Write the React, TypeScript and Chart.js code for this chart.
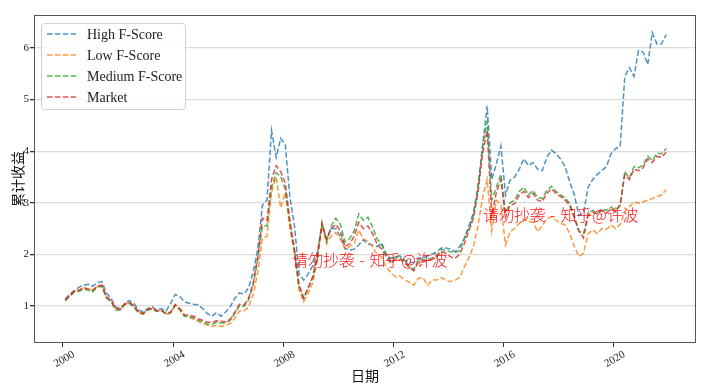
import React, { useEffect, useRef } from "react";
import { Chart, registerables } from "chart.js";

Chart.register(...registerables);

// Bi-monthly observations starting Feb 2000 (decimal years)
const startYear = 2000.08;
const stepYears = 1 / 6;

const seriesNames = ["High F-Score", "Low F-Score", "Medium F-Score", "Market"];

const highScore = [
  1.13, 1.22, 1.30, 1.36, 1.40, 1.42, 1.38, 1.45, 1.47, 1.25, 1.15, 0.98,
  0.95, 1.05, 1.10, 1.05, 0.92, 0.88, 0.95, 0.98, 0.92, 0.95, 0.90, 1.05,
  1.22, 1.18, 1.08, 1.05, 1.03, 1.02, 0.95, 0.85, 0.80, 0.87, 0.80, 0.88,
  0.98, 1.15, 1.25, 1.23, 1.35, 1.65, 2.10, 2.95, 3.05, 4.40, 3.88, 4.25,
  4.12, 3.10, 2.55, 1.62, 1.50, 1.62, 1.78, 2.05, 2.55, 2.30, 2.50, 2.50,
  2.35, 2.12, 2.08, 2.10, 2.18, 2.28, 2.20, 2.18, 2.15, 2.22, 2.00, 1.92,
  1.95, 1.97, 1.88, 1.85, 1.84, 1.93, 1.93, 1.97, 2.00, 2.05, 2.12, 2.12,
  2.10, 2.05, 2.15, 2.30, 2.55, 2.80, 3.30, 4.10, 4.88, 3.45, 3.75, 4.10,
  3.15, 3.44, 3.50, 3.65, 3.85, 3.72, 3.78, 3.65, 3.62, 3.88, 4.02, 3.95,
  3.85, 3.70, 3.40, 3.15, 2.75, 2.80, 3.30, 3.45, 3.55, 3.62, 3.70, 3.95,
  4.05, 4.10, 5.45, 5.62, 5.45, 5.95, 5.92, 5.68, 6.30, 6.08, 6.08, 6.26,
];

const lowScore = [
  1.10, 1.20, 1.30, 1.30, 1.36, 1.33, 1.30, 1.38, 1.40, 1.17, 1.12, 0.95,
  0.95, 1.05, 1.06, 1.00, 0.88, 0.86, 0.94, 0.96, 0.90, 0.91, 0.83, 0.86,
  1.00, 0.92, 0.80, 0.78, 0.74, 0.70, 0.66, 0.63, 0.60, 0.62, 0.60, 0.62,
  0.66, 0.76, 0.90, 0.90, 0.98, 1.22, 1.65, 2.30, 2.35, 3.20, 3.50, 2.90,
  3.20, 2.50, 2.00, 1.30, 1.08, 1.25, 1.45, 1.90, 2.55, 2.20, 2.35, 2.42,
  2.30, 2.10, 2.15, 2.20, 2.47, 2.30, 2.25, 2.15, 2.00, 1.95, 1.75, 1.65,
  1.56, 1.58, 1.50, 1.46, 1.40, 1.53, 1.55, 1.40, 1.50, 1.50, 1.55, 1.50,
  1.47, 1.50, 1.55, 1.75, 1.93, 2.15, 2.55, 3.10, 3.45, 2.45, 3.05, 2.95,
  2.18, 2.44, 2.50, 2.60, 2.69, 2.63, 2.62, 2.44, 2.55, 2.69, 2.73, 2.66,
  2.60, 2.57, 2.40, 2.15, 1.96, 2.02, 2.40, 2.47, 2.40, 2.50, 2.48, 2.57,
  2.50, 2.58, 2.83, 2.92, 3.02, 2.99, 3.02, 3.05, 3.08, 3.12, 3.15, 3.25,
];

const mediumScore = [
  1.10, 1.18, 1.27, 1.28, 1.33, 1.30, 1.27, 1.36, 1.38, 1.15, 1.08, 0.92,
  0.92, 1.02, 1.05, 0.98, 0.86, 0.84, 0.92, 0.94, 0.89, 0.91, 0.84, 0.87,
  1.01, 0.93, 0.80, 0.80, 0.77, 0.72, 0.69, 0.65, 0.64, 0.68, 0.67, 0.67,
  0.72, 0.86, 1.00, 0.99, 1.12, 1.40, 1.90, 2.55, 2.55, 3.30, 3.58, 3.50,
  3.25, 2.60, 2.05, 1.38, 1.15, 1.35, 1.58, 2.00, 2.62, 2.25, 2.55, 2.70,
  2.58, 2.24, 2.30, 2.45, 2.78, 2.66, 2.72, 2.53, 2.30, 2.18, 2.00, 1.86,
  1.95, 1.93, 1.87, 1.78, 1.70, 1.90, 1.90, 1.90, 1.93, 1.98, 2.10, 2.07,
  2.05, 2.03, 2.07, 2.30, 2.50, 2.75, 3.30, 4.10, 4.57, 3.05, 3.30, 3.55,
  2.80, 3.00, 3.05, 3.22, 3.30, 3.15, 3.24, 3.10, 3.08, 3.24, 3.32, 3.22,
  3.15, 3.10, 2.98, 2.75, 2.45, 2.40, 2.78, 2.85, 2.80, 2.88, 2.85, 2.92,
  2.85, 2.98, 3.60, 3.48, 3.70, 3.68, 3.73, 3.90, 3.82, 3.96, 3.95, 4.05,
];

const market = [
  1.12, 1.20, 1.28, 1.30, 1.35, 1.33, 1.30, 1.38, 1.40, 1.18, 1.10, 0.95,
  0.93, 1.03, 1.07, 1.00, 0.88, 0.85, 0.93, 0.95, 0.90, 0.92, 0.85, 0.88,
  1.03, 0.95, 0.83, 0.82, 0.80, 0.75, 0.72, 0.68, 0.68, 0.71, 0.70, 0.69,
  0.74, 0.88, 1.03, 1.02, 1.15, 1.45, 1.95, 2.70, 2.65, 3.45, 3.72, 3.60,
  3.38, 2.65, 2.10, 1.40, 1.15, 1.35, 1.55, 1.95, 2.60, 2.28, 2.50, 2.58,
  2.45, 2.15, 2.20, 2.35, 2.62, 2.50, 2.55, 2.40, 2.20, 2.10, 1.95, 1.82,
  1.90, 1.90, 1.83, 1.75, 1.68, 1.85, 1.85, 1.88, 1.90, 1.95, 2.05, 2.02,
  1.95, 1.92, 2.00, 2.20, 2.45, 2.70, 3.20, 3.95, 4.40, 2.75, 3.20, 3.45,
  2.72, 2.95, 2.98, 3.15, 3.22, 3.10, 3.18, 3.05, 3.02, 3.18, 3.27, 3.18,
  3.12, 3.05, 2.95, 2.70, 2.45, 2.32, 2.75, 2.82, 2.78, 2.85, 2.80, 2.88,
  2.82, 2.95, 3.55, 3.45, 3.65, 3.62, 3.68, 3.85, 3.78, 3.90, 3.88, 3.98,
];

const dates = highScore.map((_, i) => +(startYear + i * stepYears).toFixed(3));

const xTickYears = [2000, 2004, 2008, 2012, 2016, 2020];
const yTickValues = [1, 2, 3, 4, 5, 6];

const seriesColors = [
  "rgba(31,119,180,0.8)",
  "rgba(255,127,14,0.8)",
  "rgba(44,160,44,0.8)",
  "rgba(214,39,40,0.8)",
];

const watermarkText = "请勿抄袭-知乎@许波";
const xTitle = "日期";
const yTitle = "累计收益";

const SERIF = '"Liberation Serif", "DejaVu Serif", serif';
const CJK = '"Noto Sans CJK SC", sans-serif';

export default function App() {
  const ref = useRef<HTMLCanvasElement | null>(null);

  useEffect(() => {
    const canvas = ref.current;
    if (!canvas) return;
    const seriesData = [highScore, lowScore, mediumScore, market];

    const overlay = {
      id: "overlay",
      afterDatasetsDraw(chart: any) {
        const ctx = chart.ctx;
        ctx.save();
        ctx.fillStyle = "rgba(255,0,0,0.9)";
        ctx.font = `300 16px ${CJK}`;
        ctx.textBaseline = "middle";
        ctx.textAlign = "center";
        const chars = Array.from(watermarkText);
        const spots = [
          [292, 260],
          [483, 215],
        ];
        spots.forEach(([sx, sy]) => {
          chars.forEach((c, i) => ctx.fillText(c, sx + 8 + i * 15.5, sy));
        });
        ctx.restore();
      },
      afterDraw(chart: any) {
        const ctx = chart.ctx;
        const a = chart.chartArea;
        ctx.save();
        // frame
        ctx.strokeStyle = "#555";
        ctx.lineWidth = 1;
        ctx.strokeRect(a.left + 0.5, a.top + 0.5, a.right - a.left - 1, a.bottom - a.top - 1);

        // legend
        const lx = a.left + 7, ly = a.top + 8, lw = 144, lh = 86;
        ctx.beginPath();
        ctx.roundRect(lx + 0.5, ly + 0.5, lw, lh, 3);
        ctx.fillStyle = "rgba(255,255,255,0.85)";
        ctx.fill();
        ctx.strokeStyle = "#d0d0d0";
        ctx.lineWidth = 1;
        ctx.stroke();
        ctx.font = `14px ${SERIF}`;
        ctx.textBaseline = "middle";
        ctx.textAlign = "left";
        seriesNames.forEach((name, i) => {
          const ry = ly + 11 + i * 21;
          ctx.beginPath();
          ctx.setLineDash([5.5, 2.4]);
          ctx.strokeStyle = seriesColors[i];
          ctx.lineWidth = 1.5;
          ctx.moveTo(lx + 6, ry);
          ctx.lineTo(lx + 35, ry);
          ctx.stroke();
          ctx.setLineDash([]);
          ctx.fillStyle = "#222";
          ctx.fillText(name, lx + 46, ry + 1);
        });

        // axis titles
        ctx.fillStyle = "#111";
        ctx.font = `14px ${CJK}`;
        ctx.textAlign = "center";
        ctx.textBaseline = "middle";
        ctx.fillText(xTitle, (a.left + a.right) / 2, 376);
        ctx.translate(18, (a.top + a.bottom) / 2);
        ctx.rotate(-Math.PI / 2);
        ctx.fillText(yTitle, 0, 0);
        ctx.restore();
      },
    };

    const chart = new Chart(canvas, {
      type: "line",
      data: {
        datasets: seriesNames.map((name, i) => ({
          label: name,
          data: dates.map((x, j) => ({ x, y: seriesData[i][j] })),
          borderColor: seriesColors[i],
          backgroundColor: seriesColors[i],
          borderWidth: 1.5,
          borderDash: [5.5, 2.4],
          pointRadius: 0,
          tension: 0,
          fill: false,
          order: 3 - i,
        })),
      },
      options: {
        responsive: false,
        animation: false,
        layout: { padding: { top: 15, right: 24, left: 0, bottom: 0 } },
        plugins: {
          legend: { display: false },
          tooltip: { enabled: false },
        },
        scales: {
          x: {
            type: "linear",
            min: 1998.95,
            max: 2023.0,
            afterBuildTicks: (s: any) => {
              s.ticks = xTickYears.map((v) => ({ value: v }));
            },
            afterFit: (s: any) => {
              s.height = 44;
            },
            border: { display: false },
            grid: {
              drawOnChartArea: false,
              drawTicks: true,
              tickLength: 4,
              tickColor: "#333",
            },
            ticks: {
              minRotation: 30,
              maxRotation: 30,
              autoSkip: false,
              padding: 1,
              labelOffset: 11,
              color: "#222",
              font: { family: SERIF, size: 11 },
              callback: (v: any) => String(v),
            },
          },
          y: {
            type: "linear",
            min: 0.28,
            max: 6.64,
            afterBuildTicks: (s: any) => {
              s.ticks = yTickValues.map((v) => ({ value: v }));
            },
            afterFit: (s: any) => {
              s.width = 34;
            },
            border: { display: false },
            grid: {
              color: "#dcdcdc",
              lineWidth: 1.3,
              drawTicks: true,
              tickLength: 4,
              tickColor: "#333",
            },
            ticks: {
              padding: 1,
              color: "#222",
              font: { family: SERIF, size: 11 },
              callback: (v: any) => String(v),
            },
          },
        },
      },
      plugins: [overlay],
    } as any);

    return () => chart.destroy();
  }, []);

  return (
    <div style={{ position: "absolute", left: 0, top: 0, width: 720, height: 387, background: "#fff" }}>
      <canvas ref={ref} width={720} height={387} />
    </div>
  );
}
